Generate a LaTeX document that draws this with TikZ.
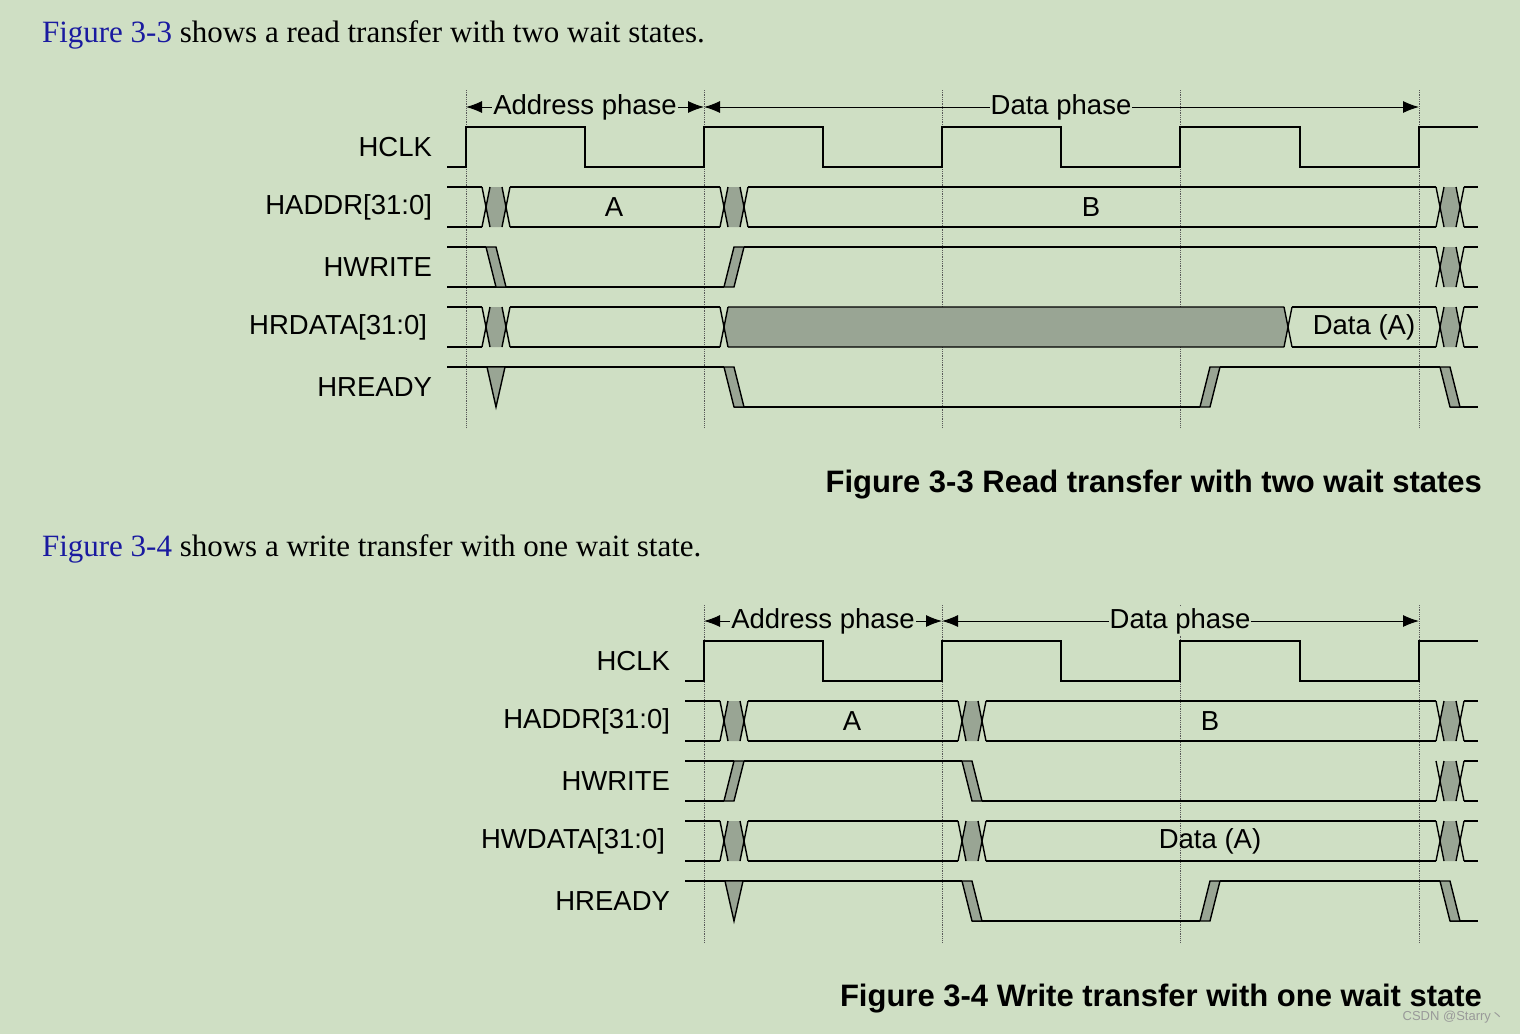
\documentclass[tikz,border=0pt]{standalone}
\usepackage{fontspec}
\setmainfont{Liberation Serif}
\setsansfont{Liberation Sans}
\newfontfamily\cjkf{Noto Sans CJK SC}
\usetikzlibrary{arrows.meta}
\definecolor{bg}{HTML}{CFDFC4}
\definecolor{gf}{HTML}{99A594}
\definecolor{lnk}{HTML}{1A1AA0}
\newcommand\bx[2]{\fill[gf] (#1+4,#2+20)--(#1+8,#2)--(#1+20,#2)--(#1+24,#2+20)--(#1+20,#2+40)--(#1+8,#2+40)--cycle;
 \draw (#1,#2)--(#1+8,#2+40) (#1,#2+40)--(#1+8,#2) (#1+20,#2)--(#1+28,#2+40) (#1+20,#2+40)--(#1+28,#2);}
\newcommand\busl[3]{\draw (#2,#1)--(#3,#1) (#2,#1+40)--(#3,#1+40);}
\newcommand\rs[2]{\filldraw[fill=gf] (#1,#2+40)--(#1+10,#2+40)--(#1+20,#2)--(#1+10,#2)--cycle;}
\newcommand\fl[2]{\filldraw[fill=gf] (#1,#2)--(#1+10,#2)--(#1+20,#2+40)--(#1+10,#2+40)--cycle;}
\newcommand\tri[2]{\filldraw[fill=gf] (#1,#2)--(#1+18,#2)--(#1+9,#2+40)--cycle;}
\tikzset{sig/.style={font=\sffamily\fontsize{27.5}{27.5}\selectfont,anchor=east},
 val/.style={font=\sffamily\fontsize{27.5}{27.5}\selectfont},
 ph/.style={font=\sffamily\fontsize{27.5}{27.5}\selectfont,fill=bg,inner sep=1pt},
 captxt/.style={font=\sffamily\bfseries\fontsize{31}{31}\selectfont,anchor=east},
 txt/.style={font=\fontsize{31}{31}\selectfont,anchor=west},
 dotln/.style={densely dotted,line width=0.8pt,gray!70!black},
 arr/.style={-{Latex[length=16pt,width=12pt]},line width=1pt}}
\begin{document}
\begin{tikzpicture}[x=1pt,y=-1pt,line width=1.4pt,line join=miter]
\fill[bg] (0,0) rectangle (1520,1034);
\useasboundingbox (0,0) rectangle (1520,1034);
% ---- texts
\node[txt] (t1) at (38,35) {\textcolor{lnk}{Figure 3-3} shows a read transfer with two wait states.};
\node[txt] (t2) at (38,549) {\textcolor{lnk}{Figure 3-4} shows a write transfer with one wait state.};
\node[captxt] (c1) at (1486,485) {Figure 3-3 Read transfer with two wait states};
\node[captxt] (c2) at (1486,999) {Figure 3-4 Write transfer with one wait state};
\node[anchor=east,font=\sffamily\fontsize{13}{13}\selectfont,text=gray!80] (wm) at (1508,1017) {CSDN @Starry{\cjkf 丶}};
% ================= Figure 3-3
\foreach \x in {466,704,942,1180,1419} \draw[dotln] (\x,90)--(\x,428);
\node[sig] (l1) at (436,147) {HCLK};
\node[sig] (l2) at (436,207) {HADDR[31:0]};
\node[sig] (l3) at (436,267) {HWRITE};
\node[sig] (l4) at (431,327) {HRDATA[31:0]};
\node[sig] (l5) at (436,387) {HREADY};
\coordinate (pa1) at (466,107); \coordinate (pa2) at (704,107); \coordinate (pd2) at (1419,107);
\draw[arr] (585,107)--(pa1); \draw[arr] (585,107)--(pa2);
\draw[arr] (1061,107)--(pa2); \draw[arr] (1061,107)--(pd2);
\node[ph] (ap1) at (585,107) {Address phase};
\node[ph] (dp1) at (1061,107) {Data phase};
\draw (447,167)--(466,167)--(466,127)--(585,127)--(585,167)--(704,167)--(704,127)--(823,127)--(823,167)--(942,167)--(942,127)--(1061,127)--(1061,167)--(1180,167)--(1180,127)--(1300,127)--(1300,167)--(1419,167)--(1419,127)--(1478,127);
% HADDR
\busl{187}{447}{482}\bx{482}{187}\busl{187}{510}{720}\bx{720}{187}\busl{187}{748}{1436}\bx{1436}{187}\busl{187}{1464}{1478}
\node[val] (va) at (614,207) {A};
\node[val] (vb) at (1091,207) {B};
% HWRITE
\draw (447,247)--(486,247) (447,287)--(724,287) (744,247)--(1436,247);
\fl{486}{247}\rs{724}{247}\bx{1436}{247}\busl{247}{1464}{1478}
% HRDATA
\busl{307}{447}{482}\bx{482}{307}\busl{307}{510}{720}
\fill[gf] (724,327)--(728,307)--(1284,307)--(1288,327)--(1284,347)--(728,347)--cycle;
\draw (720,307)--(728,347) (720,347)--(728,307) (728,307)--(1284,307) (728,347)--(1284,347) (1284,307)--(1292,347) (1284,347)--(1292,307);
\busl{307}{1292}{1436}\bx{1436}{307}\busl{307}{1464}{1478}
\node[val] (vd1) at (1364,327) {Data (A)};
% HREADY
\draw (447,367)--(724,367) (734,407)--(1200,407) (1220,367)--(1440,367) (1450,407)--(1478,407);
\tri{487}{367}\fl{724}{367}\rs{1200}{367}\fl{1440}{367}
% ================= Figure 3-4
\foreach \x in {704,942,1180,1419} \draw[dotln] (\x,605)--(\x,942);
\node[sig] (m1) at (674,661) {HCLK};
\node[sig] (m2) at (674,721) {HADDR[31:0]};
\node[sig] (m3) at (674,781) {HWRITE};
\node[sig] (m4) at (669,841) {HWDATA[31:0]};
\node[sig] (m5) at (674,901) {HREADY};
\coordinate (qa1) at (704,621); \coordinate (qa2) at (942,621); \coordinate (qd2) at (1419,621);
\draw[arr] (823,621)--(qa1); \draw[arr] (823,621)--(qa2);
\draw[arr] (1180,621)--(qa2); \draw[arr] (1180,621)--(qd2);
\node[ph] (ap2) at (823,621) {Address phase};
\node[ph] (dp2) at (1180,621) {Data phase};
\draw (685,681)--(704,681)--(704,641)--(823,641)--(823,681)--(942,681)--(942,641)--(1061,641)--(1061,681)--(1180,681)--(1180,641)--(1300,641)--(1300,681)--(1419,681)--(1419,641)--(1478,641);
% HADDR
\busl{701}{685}{720}\bx{720}{701}\busl{701}{748}{958}\bx{958}{701}\busl{701}{986}{1436}\bx{1436}{701}\busl{701}{1464}{1478}
\node[val] (wa) at (852,721) {A};
\node[val] (wb) at (1210,721) {B};
% HWRITE
\draw (685,761)--(734,761) (685,801)--(724,801) (744,761)--(962,761) (982,801)--(1436,801);
\rs{724}{761}\fl{962}{761}\bx{1436}{761}\busl{761}{1464}{1478}
% HWDATA
\busl{821}{685}{720}\bx{720}{821}\busl{821}{748}{958}\bx{958}{821}\busl{821}{986}{1436}\bx{1436}{821}\busl{821}{1464}{1478}
\node[val] (wd) at (1210,841) {Data (A)};
% HREADY
\draw (685,881)--(962,881) (972,921)--(1200,921) (1220,881)--(1440,881) (1450,921)--(1478,921);
\tri{725}{881}\fl{962}{881}\rs{1200}{881}\fl{1440}{881}
\end{tikzpicture}
\end{document}
